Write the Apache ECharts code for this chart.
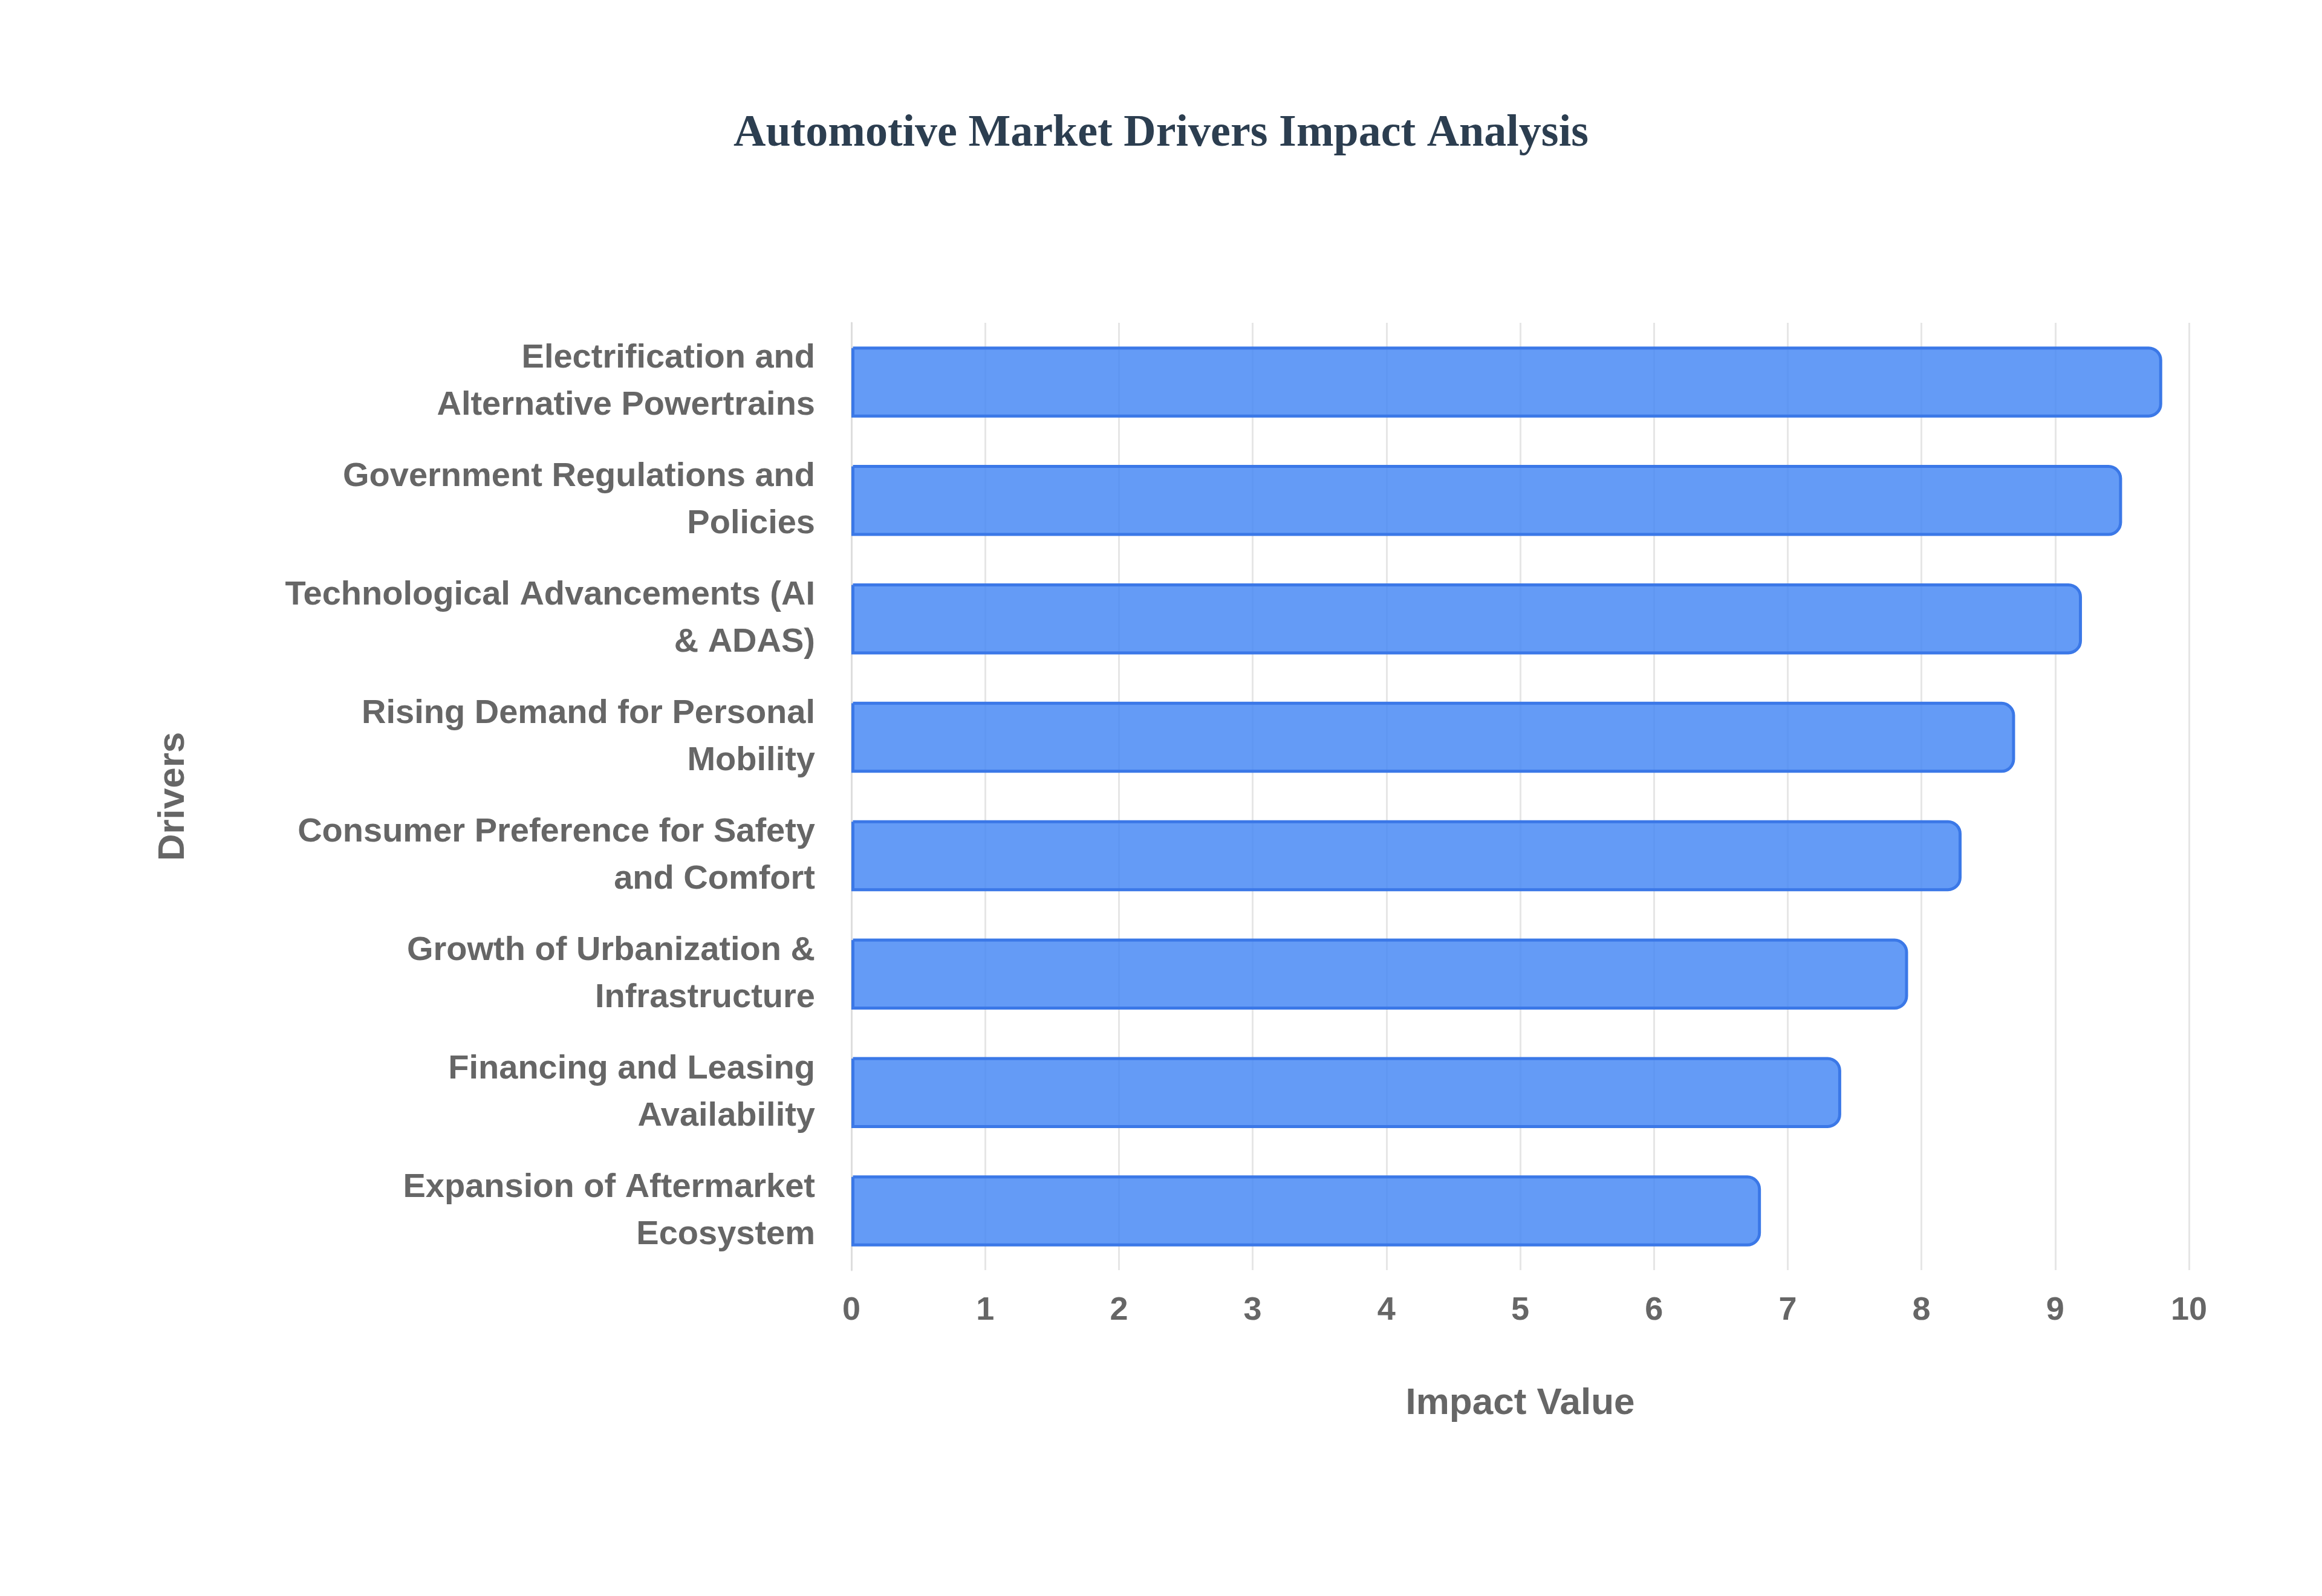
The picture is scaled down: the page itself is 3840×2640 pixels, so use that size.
<!DOCTYPE html>
<html><head><meta charset="utf-8">
<script src="https://cdn.jsdelivr.net/npm/echarts@6/dist/echarts.min.js"></script>
<style>html,body{margin:0;background:#fff}#c{width:3840px;height:2640px}</style>
</head><body><div id="c"></div>
<script>
const categories = ["Electrification and\nAlternative Powertrains","Government Regulations and\nPolicies","Technological Advancements (AI\n& ADAS)","Rising Demand for Personal\nMobility","Consumer Preference for Safety\nand Comfort","Growth of Urbanization &\nInfrastructure","Financing and Leasing\nAvailability","Expansion of Aftermarket\nEcosystem"];
const values = [9.8, 9.5, 9.2, 8.7, 8.3, 7.9, 7.4, 6.8];
const chart = echarts.init(document.getElementById('c'));
chart.setOption({
  title:{text:'Automotive Market Drivers Impact Analysis',left:'center',top:180,
    textStyle:{fontFamily:'Liberation Serif',fontWeight:'bold',fontSize:74,color:'#2c3e50'}},
  grid:{left:1408,right:220,top:534,bottom:539},
  xAxis:{type:'value',min:0,max:10,interval:1,name:'Impact Value',nameLocation:'middle',nameGap:190,
    nameTextStyle:{fontFamily:'Liberation Sans',fontWeight:'bold',fontSize:62,color:'#666'},
    axisLabel:{fontFamily:'Liberation Sans',fontWeight:'bold',fontSize:54,color:'#666',margin:40},
    axisLine:{show:false},axisTick:{show:false},
    splitLine:{lineStyle:{color:'#e6e6e6',width:3}}},
  yAxis:{type:'category',data:categories,inverse:true,name:'Drivers',nameLocation:'middle',nameGap:1090,
    nameTextStyle:{fontFamily:'Liberation Sans',fontWeight:'bold',fontSize:62,color:'#666'},
    axisLabel:{fontFamily:'Liberation Sans',fontWeight:'bold',fontSize:56,color:'#666',margin:60,lineHeight:78,align:'right'},
    axisLine:{lineStyle:{color:'#ddd',width:3}},axisTick:{show:false}},
  series:[{type:'bar',data:values,barWidth:'60%',
    itemStyle:{color:'rgba(66,133,244,0.82)',borderColor:'#3b78e7',borderWidth:5,borderRadius:[0,20,20,0]}}]
});
</script></body></html>
